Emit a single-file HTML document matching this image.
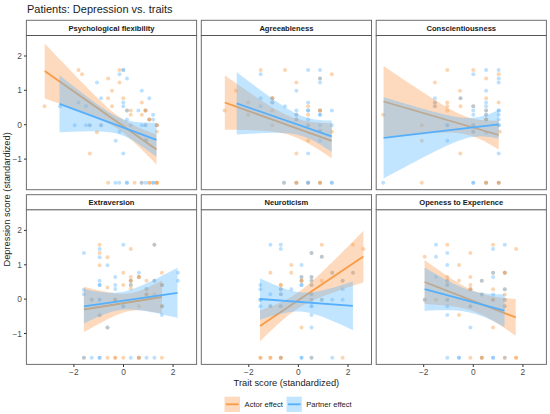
<!DOCTYPE html><html><head><meta charset="utf-8"><style>html,body{margin:0;padding:0;background:#fff;width:550px;height:414px;overflow:hidden}svg{display:block;font-family:"Liberation Sans",sans-serif}</style></head><body>
<svg width="550" height="414" viewBox="0 0 550 414">
<rect width="550" height="414" fill="#fff"/>
<text x="27" y="13.2" font-size="11" fill="#1a1a1a">Patients: Depression vs. traits</text>
<clipPath id="c00"><rect x="26.4" y="35.5" width="170.2" height="154.2"/></clipPath>
<g clip-path="url(#c00)">
<circle cx="78.5" cy="70.1" r="2.0" fill="rgb(247,150,60)" fill-opacity="0.4"/>
<circle cx="82.0" cy="74.2" r="2.0" fill="rgb(247,150,60)" fill-opacity="0.4"/>
<circle cx="108.1" cy="78.4" r="2.0" fill="rgb(247,150,60)" fill-opacity="0.4"/>
<circle cx="97.0" cy="82.5" r="2.0" fill="rgb(90,178,252)" fill-opacity="0.4"/>
<circle cx="112.0" cy="90.7" r="2.0" fill="rgb(247,150,60)" fill-opacity="0.4"/>
<circle cx="101.1" cy="98.2" r="2.0" fill="rgb(90,178,252)" fill-opacity="0.4"/>
<circle cx="108.1" cy="98.2" r="2.0" fill="rgb(247,150,60)" fill-opacity="0.4"/>
<circle cx="44.5" cy="106.3" r="2.0" fill="rgb(247,150,60)" fill-opacity="0.4"/>
<circle cx="78.5" cy="102.4" r="2.0" fill="rgb(90,178,252)" fill-opacity="0.4"/>
<circle cx="86.0" cy="106.3" r="2.0" fill="rgb(90,178,252)" fill-opacity="0.4"/>
<circle cx="60.0" cy="106.3" r="2.0" fill="rgb(90,178,252)" fill-opacity="0.4"/>
<circle cx="119.5" cy="70.1" r="2.0" fill="rgb(247,150,60)" fill-opacity="0.4"/>
<circle cx="123.3" cy="70.1" r="2.0" fill="rgb(90,178,252)" fill-opacity="0.4"/><circle cx="123.3" cy="70.1" r="2.0" fill="rgb(90,178,252)" fill-opacity="0.4"/>
<circle cx="119.5" cy="74.2" r="2.0" fill="rgb(90,178,252)" fill-opacity="0.4"/>
<circle cx="127.0" cy="78.4" r="2.0" fill="rgb(90,178,252)" fill-opacity="0.4"/>
<circle cx="119.5" cy="82.5" r="2.0" fill="rgb(247,150,60)" fill-opacity="0.4"/>
<circle cx="141.8" cy="90.7" r="2.0" fill="rgb(90,178,252)" fill-opacity="0.4"/>
<circle cx="123.3" cy="98.2" r="2.0" fill="rgb(247,150,60)" fill-opacity="0.4"/>
<circle cx="149.3" cy="98.2" r="2.0" fill="rgb(90,178,252)" fill-opacity="0.4"/>
<circle cx="123.3" cy="102.4" r="2.0" fill="rgb(90,178,252)" fill-opacity="0.4"/>
<circle cx="141.8" cy="102.4" r="2.0" fill="rgb(247,150,60)" fill-opacity="0.4"/>
<circle cx="123.3" cy="106.3" r="2.0" fill="rgb(90,178,252)" fill-opacity="0.4"/>
<circle cx="112.0" cy="106.3" r="2.0" fill="rgb(247,150,60)" fill-opacity="0.4"/>
<circle cx="127.0" cy="110.5" r="2.0" fill="rgb(247,150,60)" fill-opacity="0.4"/><circle cx="127.0" cy="110.5" r="2.0" fill="rgb(90,178,252)" fill-opacity="0.4"/>
<circle cx="130.8" cy="110.5" r="2.0" fill="rgb(247,150,60)" fill-opacity="0.4"/>
<circle cx="138.4" cy="110.5" r="2.0" fill="rgb(90,178,252)" fill-opacity="0.4"/>
<circle cx="145.5" cy="110.5" r="2.0" fill="rgb(90,178,252)" fill-opacity="0.4"/><circle cx="145.5" cy="110.5" r="2.0" fill="rgb(247,150,60)" fill-opacity="0.4"/><circle cx="145.5" cy="110.5" r="2.0" fill="rgb(247,150,60)" fill-opacity="0.4"/>
<circle cx="130.8" cy="114.8" r="2.0" fill="rgb(247,150,60)" fill-opacity="0.4"/>
<circle cx="141.8" cy="114.8" r="2.0" fill="rgb(247,150,60)" fill-opacity="0.4"/>
<circle cx="153.1" cy="114.8" r="2.0" fill="rgb(90,178,252)" fill-opacity="0.4"/>
<circle cx="149.3" cy="119.5" r="2.0" fill="rgb(90,178,252)" fill-opacity="0.4"/><circle cx="149.3" cy="119.5" r="2.0" fill="rgb(247,150,60)" fill-opacity="0.4"/><circle cx="149.3" cy="119.5" r="2.0" fill="rgb(247,150,60)" fill-opacity="0.4"/>
<circle cx="153.1" cy="119.5" r="2.0" fill="rgb(90,178,252)" fill-opacity="0.4"/>
<circle cx="141.8" cy="125.2" r="2.0" fill="rgb(90,178,252)" fill-opacity="0.4"/>
<circle cx="145.5" cy="125.2" r="2.0" fill="rgb(247,150,60)" fill-opacity="0.4"/><circle cx="145.5" cy="125.2" r="2.0" fill="rgb(90,178,252)" fill-opacity="0.4"/>
<circle cx="156.8" cy="125.2" r="2.0" fill="rgb(90,178,252)" fill-opacity="0.4"/><circle cx="156.8" cy="125.2" r="2.0" fill="rgb(247,150,60)" fill-opacity="0.4"/><circle cx="156.8" cy="125.2" r="2.0" fill="rgb(247,150,60)" fill-opacity="0.4"/>
<circle cx="156.8" cy="131.8" r="2.0" fill="rgb(247,150,60)" fill-opacity="0.4"/>
<circle cx="115.7" cy="140.7" r="2.0" fill="rgb(90,178,252)" fill-opacity="0.4"/>
<circle cx="123.3" cy="153.5" r="2.0" fill="rgb(90,178,252)" fill-opacity="0.4"/>
<circle cx="74.7" cy="125.2" r="2.0" fill="rgb(90,178,252)" fill-opacity="0.4"/>
<circle cx="86.0" cy="125.2" r="2.0" fill="rgb(90,178,252)" fill-opacity="0.4"/>
<circle cx="89.8" cy="125.2" r="2.0" fill="rgb(247,150,60)" fill-opacity="0.4"/><circle cx="89.8" cy="125.2" r="2.0" fill="rgb(90,178,252)" fill-opacity="0.4"/>
<circle cx="101.1" cy="125.2" r="2.0" fill="rgb(247,150,60)" fill-opacity="0.4"/><circle cx="101.1" cy="125.2" r="2.0" fill="rgb(90,178,252)" fill-opacity="0.4"/>
<circle cx="96.9" cy="132.2" r="2.0" fill="rgb(247,150,60)" fill-opacity="0.4"/>
<circle cx="89.8" cy="153.5" r="2.0" fill="rgb(247,150,60)" fill-opacity="0.4"/>
<circle cx="130.8" cy="125.2" r="2.0" fill="rgb(90,178,252)" fill-opacity="0.4"/>
<circle cx="119.5" cy="131.8" r="2.0" fill="rgb(90,178,252)" fill-opacity="0.4"/>
<circle cx="127.0" cy="119.5" r="2.0" fill="rgb(90,178,252)" fill-opacity="0.4"/>
<circle cx="145.9" cy="140.3" r="2.0" fill="rgb(247,150,60)" fill-opacity="0.4"/><circle cx="145.9" cy="140.3" r="2.0" fill="rgb(90,178,252)" fill-opacity="0.4"/>
<circle cx="108.1" cy="182.8" r="2.0" fill="rgb(247,150,60)" fill-opacity="0.4"/>
<circle cx="115.5" cy="182.8" r="2.0" fill="rgb(90,178,252)" fill-opacity="0.4"/>
<circle cx="119.3" cy="182.8" r="2.0" fill="rgb(90,178,252)" fill-opacity="0.4"/>
<circle cx="126.9" cy="182.8" r="2.0" fill="rgb(90,178,252)" fill-opacity="0.4"/><circle cx="126.9" cy="182.8" r="2.0" fill="rgb(90,178,252)" fill-opacity="0.4"/>
<circle cx="134.5" cy="182.8" r="2.0" fill="rgb(247,150,60)" fill-opacity="0.4"/>
<circle cx="141.6" cy="182.8" r="2.0" fill="rgb(247,150,60)" fill-opacity="0.4"/><circle cx="141.6" cy="182.8" r="2.0" fill="rgb(90,178,252)" fill-opacity="0.4"/>
<circle cx="145.6" cy="182.8" r="2.0" fill="rgb(90,178,252)" fill-opacity="0.4"/>
<circle cx="149.3" cy="182.8" r="2.0" fill="rgb(247,150,60)" fill-opacity="0.4"/><circle cx="149.3" cy="182.8" r="2.0" fill="rgb(247,150,60)" fill-opacity="0.4"/>
<circle cx="153.1" cy="182.8" r="2.0" fill="rgb(90,178,252)" fill-opacity="0.4"/><circle cx="153.1" cy="182.8" r="2.0" fill="rgb(90,178,252)" fill-opacity="0.4"/>
<circle cx="156.8" cy="182.8" r="2.0" fill="rgb(247,150,60)" fill-opacity="0.4"/><circle cx="156.8" cy="182.8" r="2.0" fill="rgb(247,150,60)" fill-opacity="0.4"/><circle cx="156.8" cy="182.8" r="2.0" fill="rgb(247,150,60)" fill-opacity="0.4"/>
<path d="M44.70,43.60 L47.57,46.61 L50.43,49.62 L53.30,52.63 L56.17,55.63 L59.03,58.63 L61.90,61.62 L64.77,64.61 L67.63,67.60 L70.50,70.57 L73.37,73.54 L76.23,76.51 L79.10,79.46 L81.97,82.40 L84.83,85.33 L87.70,88.24 L90.57,91.13 L93.43,93.99 L96.30,96.82 L99.17,99.61 L102.03,102.35 L104.90,105.03 L107.77,107.63 L110.63,110.13 L113.50,112.50 L116.37,114.74 L119.23,116.82 L122.10,118.74 L124.97,120.51 L127.83,122.15 L130.70,123.66 L133.57,125.08 L136.43,126.43 L139.30,127.71 L142.17,128.94 L145.03,130.13 L147.90,131.30 L150.77,132.43 L153.63,133.55 L156.50,134.65 L156.50,164.55 L153.63,161.62 L150.77,158.70 L147.90,155.81 L145.03,152.94 L142.17,150.11 L139.30,147.31 L136.43,144.56 L133.57,141.87 L130.70,139.26 L127.83,136.74 L124.97,134.35 L122.10,132.09 L119.23,129.98 L116.37,128.03 L113.50,126.24 L110.63,124.58 L107.77,123.05 L104.90,121.61 L102.03,120.26 L99.17,118.97 L96.30,117.73 L93.43,116.53 L90.57,115.37 L87.70,114.22 L84.83,113.10 L81.97,112.00 L79.10,110.91 L76.23,109.83 L73.37,108.76 L70.50,107.70 L67.63,106.65 L64.77,105.60 L61.90,104.56 L59.03,103.53 L56.17,102.49 L53.30,101.47 L50.43,100.44 L47.57,99.42 L44.70,98.40Z" fill="rgb(250,160,90)" fill-opacity="0.4"/>
<line x1="44.7" y1="71" x2="156.5" y2="149.6" stroke="rgb(248,155,70)" stroke-width="1.8"/>
<path d="M59.50,75.35 L61.99,77.30 L64.47,79.26 L66.96,81.21 L69.45,83.15 L71.94,85.09 L74.42,87.03 L76.91,88.95 L79.40,90.87 L81.88,92.78 L84.37,94.68 L86.86,96.56 L89.35,98.43 L91.83,100.28 L94.32,102.11 L96.81,103.91 L99.29,105.69 L101.78,107.42 L104.27,109.11 L106.76,110.74 L109.24,112.31 L111.73,113.79 L114.22,115.18 L116.71,116.46 L119.19,117.61 L121.68,118.62 L124.17,119.49 L126.65,120.22 L129.14,120.82 L131.63,121.30 L134.12,121.69 L136.60,121.99 L139.09,122.21 L141.58,122.38 L144.06,122.51 L146.55,122.59 L149.04,122.64 L151.53,122.66 L154.01,122.66 L156.50,122.64 L156.50,156.96 L154.01,155.09 L151.53,153.25 L149.04,151.42 L146.55,149.63 L144.06,147.86 L141.58,146.14 L139.09,144.46 L136.60,142.85 L134.12,141.30 L131.63,139.84 L129.14,138.47 L126.65,137.23 L124.17,136.11 L121.68,135.14 L119.19,134.30 L116.71,133.60 L114.22,133.03 L111.73,132.58 L109.24,132.21 L106.76,131.93 L104.27,131.72 L101.78,131.56 L99.29,131.45 L96.81,131.38 L94.32,131.34 L91.83,131.32 L89.35,131.32 L86.86,131.35 L84.37,131.38 L81.88,131.44 L79.40,131.50 L76.91,131.57 L74.42,131.65 L71.94,131.74 L69.45,131.83 L66.96,131.93 L64.47,132.03 L61.99,132.14 L59.50,132.25Z" fill="rgb(100,188,254)" fill-opacity="0.4"/>
<line x1="59.5" y1="103.8" x2="156.5" y2="139.8" stroke="rgb(85,175,250)" stroke-width="1.8"/>
</g>
<rect x="26.4" y="35.5" width="170.2" height="154.2" fill="none" stroke="#6e6e6e" stroke-width="1"/>
<rect x="26.4" y="20.3" width="170.2" height="15.2" fill="#fff" stroke="#6e6e6e" stroke-width="1"/>
<line x1="26.4" y1="35.5" x2="196.6" y2="35.5" stroke="#555" stroke-width="1"/>
<text x="111.5" y="30.7" font-size="7.6" font-weight="bold" text-anchor="middle" fill="#1a1a1a">Psychological flexibility</text>
<clipPath id="c01"><rect x="201.3" y="35.5" width="170.2" height="154.2"/></clipPath>
<g clip-path="url(#c01)">
<circle cx="260.6" cy="70.1" r="2.0" fill="rgb(247,150,60)" fill-opacity="0.4"/>
<circle cx="285.0" cy="70.1" r="2.0" fill="rgb(247,150,60)" fill-opacity="0.4"/>
<circle cx="260.6" cy="74.2" r="2.0" fill="rgb(90,178,252)" fill-opacity="0.4"/>
<circle cx="235.9" cy="90.7" r="2.0" fill="rgb(247,150,60)" fill-opacity="0.4"/>
<circle cx="272.3" cy="98.2" r="2.0" fill="rgb(90,178,252)" fill-opacity="0.4"/><circle cx="272.3" cy="98.2" r="2.0" fill="rgb(247,150,60)" fill-opacity="0.4"/><circle cx="272.3" cy="98.2" r="2.0" fill="rgb(247,150,60)" fill-opacity="0.4"/>
<circle cx="260.6" cy="98.2" r="2.0" fill="rgb(90,178,252)" fill-opacity="0.4"/>
<circle cx="272.3" cy="102.4" r="2.0" fill="rgb(247,150,60)" fill-opacity="0.4"/><circle cx="272.3" cy="102.4" r="2.0" fill="rgb(90,178,252)" fill-opacity="0.4"/>
<circle cx="260.6" cy="106.3" r="2.0" fill="rgb(90,178,252)" fill-opacity="0.4"/>
<circle cx="248.2" cy="102.4" r="2.0" fill="rgb(247,150,60)" fill-opacity="0.4"/>
<circle cx="285.0" cy="106.3" r="2.0" fill="rgb(90,178,252)" fill-opacity="0.4"/>
<circle cx="224.6" cy="110.5" r="2.0" fill="rgb(247,150,60)" fill-opacity="0.4"/>
<circle cx="272.3" cy="110.5" r="2.0" fill="rgb(247,150,60)" fill-opacity="0.4"/>
<circle cx="308.1" cy="70.1" r="2.0" fill="rgb(90,178,252)" fill-opacity="0.4"/>
<circle cx="320.0" cy="70.1" r="2.0" fill="rgb(90,178,252)" fill-opacity="0.4"/>
<circle cx="331.8" cy="74.2" r="2.0" fill="rgb(247,150,60)" fill-opacity="0.4"/>
<circle cx="320.0" cy="78.4" r="2.0" fill="rgb(247,150,60)" fill-opacity="0.4"/><circle cx="320.0" cy="78.4" r="2.0" fill="rgb(90,178,252)" fill-opacity="0.4"/>
<circle cx="320.0" cy="82.5" r="2.0" fill="rgb(90,178,252)" fill-opacity="0.4"/>
<circle cx="296.4" cy="82.5" r="2.0" fill="rgb(247,150,60)" fill-opacity="0.4"/>
<circle cx="296.4" cy="90.7" r="2.0" fill="rgb(90,178,252)" fill-opacity="0.4"/>
<circle cx="308.1" cy="102.4" r="2.0" fill="rgb(90,178,252)" fill-opacity="0.4"/>
<circle cx="308.1" cy="106.3" r="2.0" fill="rgb(247,150,60)" fill-opacity="0.4"/>
<circle cx="296.4" cy="110.5" r="2.0" fill="rgb(90,178,252)" fill-opacity="0.4"/>
<circle cx="308.1" cy="110.5" r="2.0" fill="rgb(90,178,252)" fill-opacity="0.4"/><circle cx="308.1" cy="110.5" r="2.0" fill="rgb(90,178,252)" fill-opacity="0.4"/>
<circle cx="320.0" cy="110.5" r="2.0" fill="rgb(90,178,252)" fill-opacity="0.4"/><circle cx="320.0" cy="110.5" r="2.0" fill="rgb(247,150,60)" fill-opacity="0.4"/><circle cx="320.0" cy="110.5" r="2.0" fill="rgb(247,150,60)" fill-opacity="0.4"/>
<circle cx="331.8" cy="110.5" r="2.0" fill="rgb(90,178,252)" fill-opacity="0.4"/>
<circle cx="284.0" cy="182.8" r="2.0" fill="rgb(247,150,60)" fill-opacity="0.4"/><circle cx="284.0" cy="182.8" r="2.0" fill="rgb(90,178,252)" fill-opacity="0.4"/>
<circle cx="248.2" cy="114.8" r="2.0" fill="rgb(247,150,60)" fill-opacity="0.4"/>
<circle cx="272.3" cy="125.2" r="2.0" fill="rgb(247,150,60)" fill-opacity="0.4"/>
<circle cx="296.4" cy="114.8" r="2.0" fill="rgb(247,150,60)" fill-opacity="0.4"/><circle cx="296.4" cy="114.8" r="2.0" fill="rgb(90,178,252)" fill-opacity="0.4"/>
<circle cx="308.1" cy="114.8" r="2.0" fill="rgb(247,150,60)" fill-opacity="0.4"/>
<circle cx="320.0" cy="114.8" r="2.0" fill="rgb(90,178,252)" fill-opacity="0.4"/><circle cx="320.0" cy="114.8" r="2.0" fill="rgb(90,178,252)" fill-opacity="0.4"/>
<circle cx="296.4" cy="119.5" r="2.0" fill="rgb(247,150,60)" fill-opacity="0.4"/><circle cx="296.4" cy="119.5" r="2.0" fill="rgb(90,178,252)" fill-opacity="0.4"/>
<circle cx="308.1" cy="119.5" r="2.0" fill="rgb(90,178,252)" fill-opacity="0.4"/>
<circle cx="308.1" cy="125.2" r="2.0" fill="rgb(247,150,60)" fill-opacity="0.4"/><circle cx="308.1" cy="125.2" r="2.0" fill="rgb(90,178,252)" fill-opacity="0.4"/>
<circle cx="320.0" cy="125.2" r="2.0" fill="rgb(90,178,252)" fill-opacity="0.4"/>
<circle cx="331.8" cy="125.2" r="2.0" fill="rgb(90,178,252)" fill-opacity="0.4"/>
<circle cx="320.0" cy="130.9" r="2.0" fill="rgb(247,150,60)" fill-opacity="0.4"/><circle cx="320.0" cy="130.9" r="2.0" fill="rgb(90,178,252)" fill-opacity="0.4"/>
<circle cx="331.8" cy="131.8" r="2.0" fill="rgb(247,150,60)" fill-opacity="0.4"/>
<circle cx="308.1" cy="140.7" r="2.0" fill="rgb(247,150,60)" fill-opacity="0.4"/>
<circle cx="320.0" cy="140.7" r="2.0" fill="rgb(90,178,252)" fill-opacity="0.4"/>
<circle cx="296.4" cy="153.5" r="2.0" fill="rgb(247,150,60)" fill-opacity="0.4"/>
<circle cx="308.1" cy="153.5" r="2.0" fill="rgb(90,178,252)" fill-opacity="0.4"/>
<circle cx="296.4" cy="182.8" r="2.0" fill="rgb(90,178,252)" fill-opacity="0.4"/><circle cx="296.4" cy="182.8" r="2.0" fill="rgb(247,150,60)" fill-opacity="0.4"/><circle cx="296.4" cy="182.8" r="2.0" fill="rgb(247,150,60)" fill-opacity="0.4"/>
<circle cx="308.1" cy="182.8" r="2.0" fill="rgb(247,150,60)" fill-opacity="0.4"/><circle cx="308.1" cy="182.8" r="2.0" fill="rgb(90,178,252)" fill-opacity="0.4"/><circle cx="308.1" cy="182.8" r="2.0" fill="rgb(90,178,252)" fill-opacity="0.4"/>
<circle cx="320.0" cy="182.8" r="2.0" fill="rgb(90,178,252)" fill-opacity="0.4"/><circle cx="320.0" cy="182.8" r="2.0" fill="rgb(247,150,60)" fill-opacity="0.4"/><circle cx="320.0" cy="182.8" r="2.0" fill="rgb(247,150,60)" fill-opacity="0.4"/>
<circle cx="331.8" cy="182.8" r="2.0" fill="rgb(90,178,252)" fill-opacity="0.4"/><circle cx="331.8" cy="182.8" r="2.0" fill="rgb(90,178,252)" fill-opacity="0.4"/>
<path d="M224.80,75.24 L227.54,77.19 L230.28,79.14 L233.02,81.08 L235.76,83.01 L238.51,84.94 L241.25,86.86 L243.99,88.77 L246.73,90.67 L249.47,92.56 L252.21,94.43 L254.95,96.29 L257.69,98.13 L260.43,99.94 L263.17,101.73 L265.92,103.49 L268.66,105.21 L271.40,106.90 L274.14,108.53 L276.88,110.10 L279.62,111.60 L282.36,113.03 L285.10,114.36 L287.84,115.59 L290.58,116.72 L293.33,117.73 L296.07,118.62 L298.81,119.41 L301.55,120.09 L304.29,120.68 L307.03,121.18 L309.77,121.60 L312.51,121.96 L315.25,122.27 L317.99,122.53 L320.74,122.75 L323.48,122.94 L326.22,123.10 L328.96,123.24 L331.70,123.36 L331.70,158.24 L328.96,156.39 L326.22,154.57 L323.48,152.76 L320.74,150.99 L317.99,149.25 L315.25,147.54 L312.51,145.89 L309.77,144.29 L307.03,142.75 L304.29,141.28 L301.55,139.90 L298.81,138.62 L296.07,137.44 L293.33,136.38 L290.58,135.42 L287.84,134.58 L285.10,133.85 L282.36,133.22 L279.62,132.68 L276.88,132.22 L274.14,131.83 L271.40,131.49 L268.66,131.21 L265.92,130.97 L263.17,130.77 L260.43,130.59 L257.69,130.44 L254.95,130.32 L252.21,130.21 L249.47,130.12 L246.73,130.04 L243.99,129.98 L241.25,129.92 L238.51,129.88 L235.76,129.84 L233.02,129.81 L230.28,129.79 L227.54,129.77 L224.80,129.76Z" fill="rgb(250,160,90)" fill-opacity="0.4"/>
<line x1="224.8" y1="102.5" x2="331.7" y2="140.8" stroke="rgb(248,155,70)" stroke-width="1.8"/>
<path d="M236.70,72.22 L239.14,74.08 L241.57,75.93 L244.01,77.77 L246.44,79.61 L248.88,81.45 L251.32,83.28 L253.75,85.10 L256.19,86.91 L258.62,88.71 L261.06,90.51 L263.49,92.29 L265.93,94.06 L268.37,95.81 L270.80,97.55 L273.24,99.27 L275.67,100.96 L278.11,102.62 L280.55,104.25 L282.98,105.85 L285.42,107.39 L287.85,108.89 L290.29,110.32 L292.73,111.68 L295.16,112.96 L297.60,114.15 L300.03,115.23 L302.47,116.21 L304.91,117.07 L307.34,117.81 L309.78,118.45 L312.21,118.98 L314.65,119.42 L317.08,119.77 L319.52,120.05 L321.96,120.26 L324.39,120.41 L326.83,120.52 L329.26,120.59 L331.70,120.62 L331.70,151.98 L329.26,150.32 L326.83,148.71 L324.39,147.13 L321.96,145.59 L319.52,144.12 L317.08,142.71 L314.65,141.37 L312.21,140.12 L309.78,138.96 L307.34,137.91 L304.91,136.97 L302.47,136.15 L300.03,135.44 L297.60,134.83 L295.16,134.33 L292.73,133.92 L290.29,133.60 L287.85,133.34 L285.42,133.15 L282.98,133.01 L280.55,132.92 L278.11,132.86 L275.67,132.84 L273.24,132.84 L270.80,132.87 L268.37,132.92 L265.93,132.99 L263.49,133.07 L261.06,133.16 L258.62,133.27 L256.19,133.39 L253.75,133.51 L251.32,133.65 L248.88,133.79 L246.44,133.94 L244.01,134.09 L241.57,134.25 L239.14,134.41 L236.70,134.58Z" fill="rgb(100,188,254)" fill-opacity="0.4"/>
<line x1="236.7" y1="103.4" x2="331.7" y2="136.3" stroke="rgb(85,175,250)" stroke-width="1.8"/>
</g>
<rect x="201.3" y="35.5" width="170.2" height="154.2" fill="none" stroke="#6e6e6e" stroke-width="1"/>
<rect x="201.3" y="20.3" width="170.2" height="15.2" fill="#fff" stroke="#6e6e6e" stroke-width="1"/>
<line x1="201.3" y1="35.5" x2="371.5" y2="35.5" stroke="#555" stroke-width="1"/>
<text x="286.4" y="30.7" font-size="7.6" font-weight="bold" text-anchor="middle" fill="#1a1a1a">Agreeableness</text>
<clipPath id="c02"><rect x="376.2" y="35.5" width="170.2" height="154.2"/></clipPath>
<g clip-path="url(#c02)">
<circle cx="447.3" cy="70.1" r="2.0" fill="rgb(247,150,60)" fill-opacity="0.4"/>
<circle cx="434.9" cy="82.5" r="2.0" fill="rgb(247,150,60)" fill-opacity="0.4"/>
<circle cx="460.0" cy="90.7" r="2.0" fill="rgb(247,150,60)" fill-opacity="0.4"/>
<circle cx="434.9" cy="98.2" r="2.0" fill="rgb(90,178,252)" fill-opacity="0.4"/>
<circle cx="434.9" cy="102.4" r="2.0" fill="rgb(247,150,60)" fill-opacity="0.4"/><circle cx="434.9" cy="102.4" r="2.0" fill="rgb(90,178,252)" fill-opacity="0.4"/>
<circle cx="434.9" cy="106.3" r="2.0" fill="rgb(247,150,60)" fill-opacity="0.4"/><circle cx="434.9" cy="106.3" r="2.0" fill="rgb(90,178,252)" fill-opacity="0.4"/>
<circle cx="460.5" cy="98.2" r="2.0" fill="rgb(247,150,60)" fill-opacity="0.4"/><circle cx="460.5" cy="98.2" r="2.0" fill="rgb(90,178,252)" fill-opacity="0.4"/>
<circle cx="447.3" cy="102.4" r="2.0" fill="rgb(247,150,60)" fill-opacity="0.4"/>
<circle cx="460.5" cy="106.3" r="2.0" fill="rgb(247,150,60)" fill-opacity="0.4"/>
<circle cx="447.3" cy="106.3" r="2.0" fill="rgb(247,150,60)" fill-opacity="0.4"/>
<circle cx="447.3" cy="110.5" r="2.0" fill="rgb(247,150,60)" fill-opacity="0.4"/>
<circle cx="473.3" cy="70.1" r="2.0" fill="rgb(247,150,60)" fill-opacity="0.4"/>
<circle cx="486.1" cy="70.1" r="2.0" fill="rgb(90,178,252)" fill-opacity="0.4"/>
<circle cx="498.7" cy="70.1" r="2.0" fill="rgb(90,178,252)" fill-opacity="0.4"/>
<circle cx="473.3" cy="74.2" r="2.0" fill="rgb(90,178,252)" fill-opacity="0.4"/>
<circle cx="498.7" cy="74.2" r="2.0" fill="rgb(247,150,60)" fill-opacity="0.4"/>
<circle cx="486.1" cy="78.4" r="2.0" fill="rgb(247,150,60)" fill-opacity="0.4"/>
<circle cx="498.7" cy="78.4" r="2.0" fill="rgb(90,178,252)" fill-opacity="0.4"/>
<circle cx="498.7" cy="82.5" r="2.0" fill="rgb(90,178,252)" fill-opacity="0.4"/>
<circle cx="486.1" cy="90.7" r="2.0" fill="rgb(90,178,252)" fill-opacity="0.4"/>
<circle cx="486.1" cy="98.2" r="2.0" fill="rgb(247,150,60)" fill-opacity="0.4"/>
<circle cx="486.1" cy="102.4" r="2.0" fill="rgb(90,178,252)" fill-opacity="0.4"/>
<circle cx="498.7" cy="102.4" r="2.0" fill="rgb(247,150,60)" fill-opacity="0.4"/>
<circle cx="486.1" cy="106.3" r="2.0" fill="rgb(90,178,252)" fill-opacity="0.4"/>
<circle cx="473.3" cy="106.3" r="2.0" fill="rgb(247,150,60)" fill-opacity="0.4"/><circle cx="473.3" cy="106.3" r="2.0" fill="rgb(90,178,252)" fill-opacity="0.4"/>
<circle cx="486.1" cy="110.5" r="2.0" fill="rgb(247,150,60)" fill-opacity="0.4"/><circle cx="486.1" cy="110.5" r="2.0" fill="rgb(90,178,252)" fill-opacity="0.4"/>
<circle cx="473.3" cy="110.5" r="2.0" fill="rgb(90,178,252)" fill-opacity="0.4"/>
<circle cx="498.7" cy="110.5" r="2.0" fill="rgb(90,178,252)" fill-opacity="0.4"/><circle cx="498.7" cy="110.5" r="2.0" fill="rgb(90,178,252)" fill-opacity="0.4"/>
<circle cx="383.2" cy="114.8" r="2.0" fill="rgb(247,150,60)" fill-opacity="0.4"/>
<circle cx="421.8" cy="125.2" r="2.0" fill="rgb(247,150,60)" fill-opacity="0.4"/>
<circle cx="447.3" cy="125.2" r="2.0" fill="rgb(90,178,252)" fill-opacity="0.4"/><circle cx="447.3" cy="125.2" r="2.0" fill="rgb(90,178,252)" fill-opacity="0.4"/>
<circle cx="421.8" cy="140.7" r="2.0" fill="rgb(247,150,60)" fill-opacity="0.4"/>
<circle cx="447.3" cy="140.7" r="2.0" fill="rgb(90,178,252)" fill-opacity="0.4"/>
<circle cx="460.3" cy="153.5" r="2.0" fill="rgb(247,150,60)" fill-opacity="0.4"/>
<circle cx="383.2" cy="182.8" r="2.0" fill="rgb(90,178,252)" fill-opacity="0.4"/>
<circle cx="421.8" cy="182.8" r="2.0" fill="rgb(247,150,60)" fill-opacity="0.4"/>
<circle cx="473.3" cy="114.8" r="2.0" fill="rgb(90,178,252)" fill-opacity="0.4"/>
<circle cx="486.1" cy="114.8" r="2.0" fill="rgb(247,150,60)" fill-opacity="0.4"/><circle cx="486.1" cy="114.8" r="2.0" fill="rgb(90,178,252)" fill-opacity="0.4"/>
<circle cx="498.7" cy="114.8" r="2.0" fill="rgb(90,178,252)" fill-opacity="0.4"/>
<circle cx="486.1" cy="119.5" r="2.0" fill="rgb(90,178,252)" fill-opacity="0.4"/><circle cx="486.1" cy="119.5" r="2.0" fill="rgb(247,150,60)" fill-opacity="0.4"/><circle cx="486.1" cy="119.5" r="2.0" fill="rgb(247,150,60)" fill-opacity="0.4"/>
<circle cx="498.7" cy="119.5" r="2.0" fill="rgb(90,178,252)" fill-opacity="0.4"/>
<circle cx="473.3" cy="125.2" r="2.0" fill="rgb(247,150,60)" fill-opacity="0.4"/><circle cx="473.3" cy="125.2" r="2.0" fill="rgb(90,178,252)" fill-opacity="0.4"/>
<circle cx="498.7" cy="125.2" r="2.0" fill="rgb(90,178,252)" fill-opacity="0.4"/><circle cx="498.7" cy="125.2" r="2.0" fill="rgb(90,178,252)" fill-opacity="0.4"/>
<circle cx="499.7" cy="131.8" r="2.0" fill="rgb(247,150,60)" fill-opacity="0.4"/>
<circle cx="473.3" cy="131.8" r="2.0" fill="rgb(247,150,60)" fill-opacity="0.4"/><circle cx="473.3" cy="131.8" r="2.0" fill="rgb(90,178,252)" fill-opacity="0.4"/>
<circle cx="486.1" cy="132.8" r="2.0" fill="rgb(90,178,252)" fill-opacity="0.4"/>
<circle cx="498.7" cy="153.5" r="2.0" fill="rgb(90,178,252)" fill-opacity="0.4"/>
<circle cx="473.3" cy="182.8" r="2.0" fill="rgb(90,178,252)" fill-opacity="0.4"/><circle cx="473.3" cy="182.8" r="2.0" fill="rgb(90,178,252)" fill-opacity="0.4"/>
<circle cx="486.1" cy="182.8" r="2.0" fill="rgb(90,178,252)" fill-opacity="0.4"/><circle cx="486.1" cy="182.8" r="2.0" fill="rgb(247,150,60)" fill-opacity="0.4"/><circle cx="486.1" cy="182.8" r="2.0" fill="rgb(247,150,60)" fill-opacity="0.4"/>
<circle cx="498.7" cy="182.8" r="2.0" fill="rgb(90,178,252)" fill-opacity="0.4"/><circle cx="498.7" cy="182.8" r="2.0" fill="rgb(247,150,60)" fill-opacity="0.4"/><circle cx="498.7" cy="182.8" r="2.0" fill="rgb(247,150,60)" fill-opacity="0.4"/>
<path d="M383.60,66.05 L386.55,68.05 L389.50,70.04 L392.45,72.03 L395.41,74.02 L398.36,76.00 L401.31,77.98 L404.26,79.96 L407.21,81.93 L410.16,83.89 L413.11,85.85 L416.06,87.80 L419.02,89.74 L421.97,91.67 L424.92,93.59 L427.87,95.50 L430.82,97.39 L433.77,99.26 L436.72,101.11 L439.67,102.93 L442.63,104.73 L445.58,106.48 L448.53,108.18 L451.48,109.83 L454.43,111.40 L457.38,112.89 L460.33,114.27 L463.28,115.53 L466.24,116.66 L469.19,117.63 L472.14,118.45 L475.09,119.11 L478.04,119.63 L480.99,120.02 L483.94,120.30 L486.89,120.48 L489.85,120.59 L492.80,120.63 L495.75,120.62 L498.70,120.56 L498.70,149.44 L495.75,147.67 L492.80,145.94 L489.85,144.26 L486.89,142.65 L483.94,141.11 L480.99,139.67 L478.04,138.34 L475.09,137.14 L472.14,136.09 L469.19,135.19 L466.24,134.44 L463.28,133.85 L460.33,133.40 L457.38,133.06 L454.43,132.83 L451.48,132.69 L448.53,132.61 L445.58,132.60 L442.63,132.63 L439.67,132.71 L436.72,132.81 L433.77,132.94 L430.82,133.10 L427.87,133.27 L424.92,133.46 L421.97,133.66 L419.02,133.88 L416.06,134.10 L413.11,134.33 L410.16,134.57 L407.21,134.82 L404.26,135.07 L401.31,135.33 L398.36,135.59 L395.41,135.85 L392.45,136.12 L389.50,136.39 L386.55,136.67 L383.60,136.95Z" fill="rgb(250,160,90)" fill-opacity="0.4"/>
<line x1="383.6" y1="101.5" x2="498.7" y2="135" stroke="rgb(248,155,70)" stroke-width="1.8"/>
<path d="M383.60,97.14 L386.55,98.04 L389.50,98.94 L392.45,99.83 L395.41,100.72 L398.36,101.61 L401.31,102.49 L404.26,103.37 L407.21,104.25 L410.16,105.12 L413.11,105.98 L416.06,106.84 L419.02,107.69 L421.97,108.53 L424.92,109.36 L427.87,110.18 L430.82,110.99 L433.77,111.78 L436.72,112.55 L439.67,113.30 L442.63,114.03 L445.58,114.72 L448.53,115.37 L451.48,115.98 L454.43,116.53 L457.38,117.01 L460.33,117.40 L463.28,117.70 L466.24,117.87 L469.19,117.90 L472.14,117.77 L475.09,117.48 L478.04,117.01 L480.99,116.38 L483.94,115.60 L486.89,114.69 L489.85,113.66 L492.80,112.53 L495.75,111.33 L498.70,110.07 L498.70,138.53 L495.75,137.96 L492.80,137.45 L489.85,137.02 L486.89,136.68 L483.94,136.46 L480.99,136.37 L478.04,136.43 L475.09,136.66 L472.14,137.06 L469.19,137.62 L466.24,138.35 L463.28,139.21 L460.33,140.20 L457.38,141.28 L454.43,142.46 L451.48,143.70 L448.53,145.00 L445.58,146.34 L442.63,147.73 L439.67,149.14 L436.72,150.58 L433.77,152.05 L430.82,153.53 L427.87,155.03 L424.92,156.54 L421.97,158.07 L419.02,159.60 L416.06,161.14 L413.11,162.69 L410.16,164.25 L407.21,165.81 L404.26,167.38 L401.31,168.95 L398.36,170.53 L395.41,172.11 L392.45,173.69 L389.50,175.28 L386.55,176.87 L383.60,178.46Z" fill="rgb(100,188,254)" fill-opacity="0.4"/>
<line x1="383.6" y1="137.8" x2="498.7" y2="124.3" stroke="rgb(85,175,250)" stroke-width="1.8"/>
</g>
<rect x="376.2" y="35.5" width="170.2" height="154.2" fill="none" stroke="#6e6e6e" stroke-width="1"/>
<rect x="376.2" y="20.3" width="170.2" height="15.2" fill="#fff" stroke="#6e6e6e" stroke-width="1"/>
<line x1="376.2" y1="35.5" x2="546.4" y2="35.5" stroke="#555" stroke-width="1"/>
<text x="461.3" y="30.7" font-size="7.6" font-weight="bold" text-anchor="middle" fill="#1a1a1a">Conscientiousness</text>
<line x1="24" y1="56.0" x2="26.4" y2="56.0" stroke="#333" stroke-width="1"/>
<text x="22.0" y="59.0" font-size="8.4" text-anchor="end" fill="#4d4d4d">2</text>
<line x1="24" y1="90.3" x2="26.4" y2="90.3" stroke="#333" stroke-width="1"/>
<text x="22.0" y="93.3" font-size="8.4" text-anchor="end" fill="#4d4d4d">1</text>
<line x1="24" y1="124.7" x2="26.4" y2="124.7" stroke="#333" stroke-width="1"/>
<text x="22.0" y="127.7" font-size="8.4" text-anchor="end" fill="#4d4d4d">0</text>
<line x1="24" y1="159.1" x2="26.4" y2="159.1" stroke="#333" stroke-width="1"/>
<text x="22.0" y="162.1" font-size="8.4" text-anchor="end" fill="#4d4d4d">−1</text>
<clipPath id="c10"><rect x="26.4" y="209.7" width="170.2" height="154.7"/></clipPath>
<g clip-path="url(#c10)">
<circle cx="99.6" cy="244.7" r="2.0" fill="rgb(247,150,60)" fill-opacity="0.4"/>
<circle cx="99.6" cy="248.9" r="2.0" fill="rgb(90,178,252)" fill-opacity="0.4"/>
<circle cx="99.6" cy="253.0" r="2.0" fill="rgb(247,150,60)" fill-opacity="0.4"/>
<circle cx="83.9" cy="253.0" r="2.0" fill="rgb(90,178,252)" fill-opacity="0.4"/>
<circle cx="99.6" cy="257.2" r="2.0" fill="rgb(90,178,252)" fill-opacity="0.4"/>
<circle cx="107.5" cy="257.2" r="2.0" fill="rgb(247,150,60)" fill-opacity="0.4"/>
<circle cx="99.6" cy="265.3" r="2.0" fill="rgb(247,150,60)" fill-opacity="0.4"/>
<circle cx="107.5" cy="265.3" r="2.0" fill="rgb(90,178,252)" fill-opacity="0.4"/>
<circle cx="99.6" cy="280.8" r="2.0" fill="rgb(90,178,252)" fill-opacity="0.4"/>
<circle cx="99.6" cy="285.1" r="2.0" fill="rgb(90,178,252)" fill-opacity="0.4"/><circle cx="99.6" cy="285.1" r="2.0" fill="rgb(90,178,252)" fill-opacity="0.4"/>
<circle cx="107.5" cy="287.4" r="2.0" fill="rgb(247,150,60)" fill-opacity="0.4"/>
<circle cx="123.3" cy="244.7" r="2.0" fill="rgb(90,178,252)" fill-opacity="0.4"/>
<circle cx="154.4" cy="244.7" r="2.0" fill="rgb(247,150,60)" fill-opacity="0.4"/><circle cx="154.4" cy="244.7" r="2.0" fill="rgb(90,178,252)" fill-opacity="0.4"/>
<circle cx="130.8" cy="248.9" r="2.0" fill="rgb(247,150,60)" fill-opacity="0.4"/>
<circle cx="123.3" cy="272.8" r="2.0" fill="rgb(247,150,60)" fill-opacity="0.4"/>
<circle cx="138.9" cy="272.8" r="2.0" fill="rgb(90,178,252)" fill-opacity="0.4"/>
<circle cx="161.9" cy="272.8" r="2.0" fill="rgb(247,150,60)" fill-opacity="0.4"/>
<circle cx="178.0" cy="272.8" r="2.0" fill="rgb(90,178,252)" fill-opacity="0.4"/>
<circle cx="115.2" cy="277.0" r="2.0" fill="rgb(90,178,252)" fill-opacity="0.4"/>
<circle cx="130.8" cy="277.0" r="2.0" fill="rgb(247,150,60)" fill-opacity="0.4"/>
<circle cx="138.9" cy="277.0" r="2.0" fill="rgb(90,178,252)" fill-opacity="0.4"/><circle cx="138.9" cy="277.0" r="2.0" fill="rgb(247,150,60)" fill-opacity="0.4"/><circle cx="138.9" cy="277.0" r="2.0" fill="rgb(247,150,60)" fill-opacity="0.4"/>
<circle cx="130.8" cy="280.8" r="2.0" fill="rgb(90,178,252)" fill-opacity="0.4"/><circle cx="130.8" cy="280.8" r="2.0" fill="rgb(247,150,60)" fill-opacity="0.4"/><circle cx="130.8" cy="280.8" r="2.0" fill="rgb(247,150,60)" fill-opacity="0.4"/>
<circle cx="146.5" cy="280.8" r="2.0" fill="rgb(247,150,60)" fill-opacity="0.4"/>
<circle cx="178.0" cy="280.8" r="2.0" fill="rgb(90,178,252)" fill-opacity="0.4"/>
<circle cx="115.2" cy="285.1" r="2.0" fill="rgb(90,178,252)" fill-opacity="0.4"/>
<circle cx="123.3" cy="285.1" r="2.0" fill="rgb(247,150,60)" fill-opacity="0.4"/>
<circle cx="130.8" cy="285.1" r="2.0" fill="rgb(247,150,60)" fill-opacity="0.4"/><circle cx="130.8" cy="285.1" r="2.0" fill="rgb(90,178,252)" fill-opacity="0.4"/>
<circle cx="161.9" cy="285.1" r="2.0" fill="rgb(90,178,252)" fill-opacity="0.4"/><circle cx="161.9" cy="285.1" r="2.0" fill="rgb(247,150,60)" fill-opacity="0.4"/><circle cx="161.9" cy="285.1" r="2.0" fill="rgb(247,150,60)" fill-opacity="0.4"/>
<circle cx="154.4" cy="280.8" r="2.0" fill="rgb(247,150,60)" fill-opacity="0.4"/><circle cx="154.4" cy="280.8" r="2.0" fill="rgb(90,178,252)" fill-opacity="0.4"/>
<circle cx="83.9" cy="289.8" r="2.0" fill="rgb(90,178,252)" fill-opacity="0.4"/>
<circle cx="83.9" cy="294.2" r="2.0" fill="rgb(90,178,252)" fill-opacity="0.4"/>
<circle cx="91.7" cy="299.8" r="2.0" fill="rgb(247,150,60)" fill-opacity="0.4"/><circle cx="91.7" cy="299.8" r="2.0" fill="rgb(90,178,252)" fill-opacity="0.4"/>
<circle cx="99.6" cy="299.8" r="2.0" fill="rgb(90,178,252)" fill-opacity="0.4"/><circle cx="99.6" cy="299.8" r="2.0" fill="rgb(90,178,252)" fill-opacity="0.4"/>
<circle cx="99.6" cy="315.3" r="2.0" fill="rgb(247,150,60)" fill-opacity="0.4"/><circle cx="99.6" cy="315.3" r="2.0" fill="rgb(90,178,252)" fill-opacity="0.4"/>
<circle cx="107.5" cy="327.6" r="2.0" fill="rgb(247,150,60)" fill-opacity="0.4"/><circle cx="107.5" cy="327.6" r="2.0" fill="rgb(90,178,252)" fill-opacity="0.4"/>
<circle cx="83.9" cy="357.7" r="2.0" fill="rgb(247,150,60)" fill-opacity="0.4"/><circle cx="83.9" cy="357.7" r="2.0" fill="rgb(90,178,252)" fill-opacity="0.4"/>
<circle cx="91.7" cy="357.7" r="2.0" fill="rgb(90,178,252)" fill-opacity="0.4"/>
<circle cx="99.6" cy="357.7" r="2.0" fill="rgb(90,178,252)" fill-opacity="0.4"/><circle cx="99.6" cy="357.7" r="2.0" fill="rgb(90,178,252)" fill-opacity="0.4"/>
<circle cx="107.5" cy="357.7" r="2.0" fill="rgb(247,150,60)" fill-opacity="0.4"/>
<circle cx="115.2" cy="288.9" r="2.0" fill="rgb(90,178,252)" fill-opacity="0.4"/>
<circle cx="130.8" cy="288.5" r="2.0" fill="rgb(247,150,60)" fill-opacity="0.4"/>
<circle cx="146.5" cy="288.9" r="2.0" fill="rgb(247,150,60)" fill-opacity="0.4"/><circle cx="146.5" cy="288.9" r="2.0" fill="rgb(90,178,252)" fill-opacity="0.4"/>
<circle cx="146.5" cy="294.5" r="2.0" fill="rgb(90,178,252)" fill-opacity="0.4"/><circle cx="146.5" cy="294.5" r="2.0" fill="rgb(247,150,60)" fill-opacity="0.4"/><circle cx="146.5" cy="294.5" r="2.0" fill="rgb(247,150,60)" fill-opacity="0.4"/>
<circle cx="154.4" cy="294.5" r="2.0" fill="rgb(247,150,60)" fill-opacity="0.4"/>
<circle cx="115.2" cy="299.8" r="2.0" fill="rgb(90,178,252)" fill-opacity="0.4"/><circle cx="115.2" cy="299.8" r="2.0" fill="rgb(247,150,60)" fill-opacity="0.4"/><circle cx="115.2" cy="299.8" r="2.0" fill="rgb(247,150,60)" fill-opacity="0.4"/>
<circle cx="123.3" cy="306.2" r="2.0" fill="rgb(90,178,252)" fill-opacity="0.4"/><circle cx="123.3" cy="306.2" r="2.0" fill="rgb(90,178,252)" fill-opacity="0.4"/>
<circle cx="138.9" cy="306.2" r="2.0" fill="rgb(247,150,60)" fill-opacity="0.4"/>
<circle cx="161.9" cy="306.2" r="2.0" fill="rgb(90,178,252)" fill-opacity="0.4"/><circle cx="161.9" cy="306.2" r="2.0" fill="rgb(247,150,60)" fill-opacity="0.4"/><circle cx="161.9" cy="306.2" r="2.0" fill="rgb(247,150,60)" fill-opacity="0.4"/>
<circle cx="161.9" cy="314.9" r="2.0" fill="rgb(90,178,252)" fill-opacity="0.4"/>
<circle cx="115.2" cy="357.7" r="2.0" fill="rgb(247,150,60)" fill-opacity="0.4"/><circle cx="115.2" cy="357.7" r="2.0" fill="rgb(247,150,60)" fill-opacity="0.4"/>
<circle cx="123.3" cy="357.7" r="2.0" fill="rgb(247,150,60)" fill-opacity="0.4"/>
<circle cx="130.8" cy="357.7" r="2.0" fill="rgb(90,178,252)" fill-opacity="0.4"/>
<circle cx="138.9" cy="357.7" r="2.0" fill="rgb(90,178,252)" fill-opacity="0.4"/><circle cx="138.9" cy="357.7" r="2.0" fill="rgb(247,150,60)" fill-opacity="0.4"/><circle cx="138.9" cy="357.7" r="2.0" fill="rgb(247,150,60)" fill-opacity="0.4"/>
<circle cx="146.5" cy="357.7" r="2.0" fill="rgb(90,178,252)" fill-opacity="0.4"/>
<circle cx="154.4" cy="357.7" r="2.0" fill="rgb(90,178,252)" fill-opacity="0.4"/>
<circle cx="161.9" cy="357.7" r="2.0" fill="rgb(247,150,60)" fill-opacity="0.4"/>
<path d="M83.90,286.80 L85.90,287.30 L87.91,287.80 L89.91,288.29 L91.91,288.78 L93.91,289.25 L95.92,289.72 L97.92,290.17 L99.92,290.62 L101.92,291.05 L103.93,291.46 L105.93,291.85 L107.93,292.22 L109.93,292.56 L111.94,292.87 L113.94,293.15 L115.94,293.39 L117.94,293.58 L119.95,293.71 L121.95,293.79 L123.95,293.79 L125.95,293.71 L127.96,293.55 L129.96,293.30 L131.96,292.96 L133.96,292.53 L135.97,292.01 L137.97,291.41 L139.97,290.73 L141.97,289.99 L143.98,289.19 L145.98,288.34 L147.98,287.44 L149.98,286.51 L151.99,285.54 L153.99,284.54 L155.99,283.52 L157.99,282.48 L160.00,281.42 L162.00,280.34 L162.00,313.66 L160.00,313.22 L157.99,312.80 L155.99,312.40 L153.99,312.02 L151.99,311.67 L149.98,311.34 L147.98,311.05 L145.98,310.79 L143.98,310.58 L141.97,310.42 L139.97,310.32 L137.97,310.28 L135.97,310.32 L133.96,310.45 L131.96,310.66 L129.96,310.96 L127.96,311.35 L125.95,311.83 L123.95,312.39 L121.95,313.03 L119.95,313.75 L117.94,314.52 L115.94,315.35 L113.94,316.23 L111.94,317.15 L109.93,318.11 L107.93,319.09 L105.93,320.10 L103.93,321.13 L101.92,322.19 L99.92,323.25 L97.92,324.34 L95.92,325.43 L93.91,326.54 L91.91,327.66 L89.91,328.78 L87.91,329.92 L85.90,331.06 L83.90,332.20Z" fill="rgb(250,160,90)" fill-opacity="0.4"/>
<line x1="83.9" y1="309.5" x2="162" y2="297.0" stroke="rgb(248,155,70)" stroke-width="1.8"/>
<path d="M83.90,289.11 L86.30,289.60 L88.70,290.07 L91.10,290.52 L93.50,290.95 L95.90,291.35 L98.30,291.71 L100.70,292.04 L103.10,292.32 L105.50,292.55 L107.90,292.72 L110.30,292.82 L112.70,292.83 L115.10,292.75 L117.50,292.57 L119.90,292.29 L122.30,291.90 L124.70,291.40 L127.10,290.80 L129.50,290.11 L131.90,289.34 L134.30,288.49 L136.70,287.58 L139.10,286.62 L141.50,285.61 L143.90,284.56 L146.30,283.47 L148.70,282.36 L151.10,281.23 L153.50,280.07 L155.90,278.90 L158.30,277.71 L160.70,276.51 L163.10,275.30 L165.50,274.08 L167.90,272.85 L170.30,271.61 L172.70,270.37 L175.10,269.11 L177.50,267.86 L177.50,317.94 L175.10,317.37 L172.70,316.81 L170.30,316.25 L167.90,315.70 L165.50,315.16 L163.10,314.62 L160.70,314.10 L158.30,313.58 L155.90,313.08 L153.50,312.60 L151.10,312.13 L148.70,311.68 L146.30,311.26 L143.90,310.87 L141.50,310.50 L139.10,310.18 L136.70,309.90 L134.30,309.68 L131.90,309.52 L129.50,309.43 L127.10,309.43 L124.70,309.52 L122.30,309.71 L119.90,310.00 L117.50,310.41 L115.10,310.91 L112.70,311.52 L110.30,312.22 L107.90,313.01 L105.50,313.86 L103.10,314.78 L100.70,315.75 L98.30,316.76 L95.90,317.82 L93.50,318.90 L91.10,320.02 L88.70,321.15 L86.30,322.31 L83.90,323.49Z" fill="rgb(100,188,254)" fill-opacity="0.4"/>
<line x1="83.9" y1="306.3" x2="177.5" y2="292.9" stroke="rgb(85,175,250)" stroke-width="1.8"/>
</g>
<rect x="26.4" y="209.7" width="170.2" height="154.7" fill="none" stroke="#6e6e6e" stroke-width="1"/>
<rect x="26.4" y="194.7" width="170.2" height="15.0" fill="#fff" stroke="#6e6e6e" stroke-width="1"/>
<text x="111.5" y="205.1" font-size="7.6" font-weight="bold" text-anchor="middle" fill="#1a1a1a">Extraversion</text>
<clipPath id="c11"><rect x="201.3" y="209.7" width="170.2" height="154.7"/></clipPath>
<g clip-path="url(#c11)">
<circle cx="270.4" cy="244.7" r="2.0" fill="rgb(90,178,252)" fill-opacity="0.4"/>
<circle cx="280.8" cy="244.7" r="2.0" fill="rgb(90,178,252)" fill-opacity="0.4"/>
<circle cx="280.8" cy="248.9" r="2.0" fill="rgb(90,178,252)" fill-opacity="0.4"/>
<circle cx="270.4" cy="272.8" r="2.0" fill="rgb(247,150,60)" fill-opacity="0.4"/>
<circle cx="280.8" cy="285.1" r="2.0" fill="rgb(247,150,60)" fill-opacity="0.4"/><circle cx="280.8" cy="285.1" r="2.0" fill="rgb(247,150,60)" fill-opacity="0.4"/>
<circle cx="260.4" cy="285.1" r="2.0" fill="rgb(90,178,252)" fill-opacity="0.4"/>
<circle cx="321.8" cy="244.7" r="2.0" fill="rgb(247,150,60)" fill-opacity="0.4"/>
<circle cx="353.0" cy="244.7" r="2.0" fill="rgb(247,150,60)" fill-opacity="0.4"/>
<circle cx="363.4" cy="248.9" r="2.0" fill="rgb(247,150,60)" fill-opacity="0.4"/>
<circle cx="311.5" cy="253.0" r="2.0" fill="rgb(247,150,60)" fill-opacity="0.4"/><circle cx="311.5" cy="253.0" r="2.0" fill="rgb(90,178,252)" fill-opacity="0.4"/>
<circle cx="321.8" cy="256.8" r="2.0" fill="rgb(247,150,60)" fill-opacity="0.4"/><circle cx="321.8" cy="256.8" r="2.0" fill="rgb(90,178,252)" fill-opacity="0.4"/>
<circle cx="291.3" cy="265.1" r="2.0" fill="rgb(247,150,60)" fill-opacity="0.4"/>
<circle cx="301.5" cy="265.1" r="2.0" fill="rgb(90,178,252)" fill-opacity="0.4"/>
<circle cx="291.3" cy="272.8" r="2.0" fill="rgb(247,150,60)" fill-opacity="0.4"/>
<circle cx="301.5" cy="277.0" r="2.0" fill="rgb(247,150,60)" fill-opacity="0.4"/><circle cx="301.5" cy="277.0" r="2.0" fill="rgb(90,178,252)" fill-opacity="0.4"/>
<circle cx="311.5" cy="277.0" r="2.0" fill="rgb(247,150,60)" fill-opacity="0.4"/><circle cx="311.5" cy="277.0" r="2.0" fill="rgb(90,178,252)" fill-opacity="0.4"/>
<circle cx="301.5" cy="280.8" r="2.0" fill="rgb(90,178,252)" fill-opacity="0.4"/><circle cx="301.5" cy="280.8" r="2.0" fill="rgb(247,150,60)" fill-opacity="0.4"/><circle cx="301.5" cy="280.8" r="2.0" fill="rgb(247,150,60)" fill-opacity="0.4"/>
<circle cx="311.5" cy="280.8" r="2.0" fill="rgb(247,150,60)" fill-opacity="0.4"/><circle cx="311.5" cy="280.8" r="2.0" fill="rgb(90,178,252)" fill-opacity="0.4"/>
<circle cx="301.5" cy="285.1" r="2.0" fill="rgb(90,178,252)" fill-opacity="0.4"/><circle cx="301.5" cy="285.1" r="2.0" fill="rgb(90,178,252)" fill-opacity="0.4"/>
<circle cx="311.5" cy="285.1" r="2.0" fill="rgb(247,150,60)" fill-opacity="0.4"/><circle cx="311.5" cy="285.1" r="2.0" fill="rgb(90,178,252)" fill-opacity="0.4"/>
<circle cx="321.8" cy="280.8" r="2.0" fill="rgb(247,150,60)" fill-opacity="0.4"/>
<circle cx="332.2" cy="272.8" r="2.0" fill="rgb(247,150,60)" fill-opacity="0.4"/><circle cx="332.2" cy="272.8" r="2.0" fill="rgb(90,178,252)" fill-opacity="0.4"/>
<circle cx="353.0" cy="272.8" r="2.0" fill="rgb(247,150,60)" fill-opacity="0.4"/><circle cx="353.0" cy="272.8" r="2.0" fill="rgb(90,178,252)" fill-opacity="0.4"/>
<circle cx="342.6" cy="280.8" r="2.0" fill="rgb(247,150,60)" fill-opacity="0.4"/><circle cx="342.6" cy="280.8" r="2.0" fill="rgb(90,178,252)" fill-opacity="0.4"/>
<circle cx="260.4" cy="289.3" r="2.0" fill="rgb(90,178,252)" fill-opacity="0.4"/>
<circle cx="270.4" cy="294.2" r="2.0" fill="rgb(90,178,252)" fill-opacity="0.4"/>
<circle cx="280.8" cy="289.3" r="2.0" fill="rgb(247,150,60)" fill-opacity="0.4"/><circle cx="280.8" cy="289.3" r="2.0" fill="rgb(90,178,252)" fill-opacity="0.4"/>
<circle cx="280.8" cy="294.2" r="2.0" fill="rgb(247,150,60)" fill-opacity="0.4"/><circle cx="280.8" cy="294.2" r="2.0" fill="rgb(90,178,252)" fill-opacity="0.4"/>
<circle cx="260.4" cy="299.8" r="2.0" fill="rgb(90,178,252)" fill-opacity="0.4"/><circle cx="260.4" cy="299.8" r="2.0" fill="rgb(90,178,252)" fill-opacity="0.4"/>
<circle cx="260.4" cy="306.2" r="2.0" fill="rgb(90,178,252)" fill-opacity="0.4"/>
<circle cx="270.4" cy="306.2" r="2.0" fill="rgb(247,150,60)" fill-opacity="0.4"/><circle cx="270.4" cy="306.2" r="2.0" fill="rgb(90,178,252)" fill-opacity="0.4"/>
<circle cx="280.8" cy="306.2" r="2.0" fill="rgb(247,150,60)" fill-opacity="0.4"/><circle cx="280.8" cy="306.2" r="2.0" fill="rgb(90,178,252)" fill-opacity="0.4"/>
<circle cx="260.4" cy="357.7" r="2.0" fill="rgb(247,150,60)" fill-opacity="0.4"/><circle cx="260.4" cy="357.7" r="2.0" fill="rgb(247,150,60)" fill-opacity="0.4"/>
<circle cx="270.4" cy="357.7" r="2.0" fill="rgb(247,150,60)" fill-opacity="0.4"/><circle cx="270.4" cy="357.7" r="2.0" fill="rgb(247,150,60)" fill-opacity="0.4"/>
<circle cx="280.8" cy="357.7" r="2.0" fill="rgb(90,178,252)" fill-opacity="0.4"/><circle cx="280.8" cy="357.7" r="2.0" fill="rgb(247,150,60)" fill-opacity="0.4"/><circle cx="280.8" cy="357.7" r="2.0" fill="rgb(247,150,60)" fill-opacity="0.4"/>
<circle cx="291.3" cy="289.3" r="2.0" fill="rgb(90,178,252)" fill-opacity="0.4"/>
<circle cx="342.6" cy="289.3" r="2.0" fill="rgb(90,178,252)" fill-opacity="0.4"/>
<circle cx="311.5" cy="294.2" r="2.0" fill="rgb(247,150,60)" fill-opacity="0.4"/><circle cx="311.5" cy="294.2" r="2.0" fill="rgb(90,178,252)" fill-opacity="0.4"/>
<circle cx="311.5" cy="299.8" r="2.0" fill="rgb(247,150,60)" fill-opacity="0.4"/><circle cx="311.5" cy="299.8" r="2.0" fill="rgb(90,178,252)" fill-opacity="0.4"/>
<circle cx="321.8" cy="299.8" r="2.0" fill="rgb(247,150,60)" fill-opacity="0.4"/><circle cx="321.8" cy="299.8" r="2.0" fill="rgb(90,178,252)" fill-opacity="0.4"/>
<circle cx="332.2" cy="299.8" r="2.0" fill="rgb(90,178,252)" fill-opacity="0.4"/>
<circle cx="342.6" cy="299.8" r="2.0" fill="rgb(90,178,252)" fill-opacity="0.4"/>
<circle cx="311.5" cy="306.2" r="2.0" fill="rgb(90,178,252)" fill-opacity="0.4"/><circle cx="311.5" cy="306.2" r="2.0" fill="rgb(90,178,252)" fill-opacity="0.4"/>
<circle cx="311.5" cy="314.9" r="2.0" fill="rgb(90,178,252)" fill-opacity="0.4"/>
<circle cx="301.5" cy="327.6" r="2.0" fill="rgb(247,150,60)" fill-opacity="0.4"/>
<circle cx="311.5" cy="327.6" r="2.0" fill="rgb(90,178,252)" fill-opacity="0.4"/>
<circle cx="301.5" cy="357.7" r="2.0" fill="rgb(90,178,252)" fill-opacity="0.4"/><circle cx="301.5" cy="357.7" r="2.0" fill="rgb(90,178,252)" fill-opacity="0.4"/>
<circle cx="311.5" cy="357.7" r="2.0" fill="rgb(247,150,60)" fill-opacity="0.4"/><circle cx="311.5" cy="357.7" r="2.0" fill="rgb(90,178,252)" fill-opacity="0.4"/>
<circle cx="332.2" cy="357.7" r="2.0" fill="rgb(90,178,252)" fill-opacity="0.4"/>
<circle cx="342.6" cy="357.7" r="2.0" fill="rgb(247,150,60)" fill-opacity="0.4"/>
<path d="M260.00,310.54 L262.65,309.58 L265.30,308.60 L267.95,307.60 L270.61,306.57 L273.26,305.51 L275.91,304.42 L278.56,303.27 L281.21,302.07 L283.86,300.80 L286.51,299.46 L289.16,298.02 L291.82,296.49 L294.47,294.84 L297.12,293.08 L299.77,291.20 L302.42,289.21 L305.07,287.11 L307.72,284.92 L310.37,282.65 L313.03,280.32 L315.68,277.92 L318.33,275.47 L320.98,272.99 L323.63,270.47 L326.28,267.92 L328.93,265.35 L331.58,262.76 L334.24,260.16 L336.89,257.53 L339.54,254.90 L342.19,252.26 L344.84,249.60 L347.49,246.94 L350.14,244.27 L352.79,241.60 L355.45,238.92 L358.10,236.23 L360.75,233.54 L363.40,230.85 L363.40,282.35 L360.75,283.21 L358.10,284.08 L355.45,284.95 L352.79,285.82 L350.14,286.70 L347.49,287.58 L344.84,288.47 L342.19,289.37 L339.54,290.28 L336.89,291.20 L334.24,292.14 L331.58,293.08 L328.93,294.05 L326.28,295.03 L323.63,296.04 L320.98,297.07 L318.33,298.14 L315.68,299.25 L313.03,300.41 L310.37,301.62 L307.72,302.91 L305.07,304.27 L302.42,305.73 L299.77,307.30 L297.12,308.97 L294.47,310.76 L291.82,312.67 L289.16,314.69 L286.51,316.80 L283.86,319.01 L281.21,321.30 L278.56,323.65 L275.91,326.06 L273.26,328.52 L270.61,331.01 L267.95,333.54 L265.30,336.09 L262.65,338.66 L260.00,341.26Z" fill="rgb(250,160,90)" fill-opacity="0.4"/>
<line x1="260" y1="325.9" x2="363.4" y2="256.6" stroke="rgb(248,155,70)" stroke-width="1.8"/>
<path d="M260.00,278.35 L262.38,279.44 L264.76,280.51 L267.15,281.58 L269.53,282.62 L271.91,283.65 L274.29,284.65 L276.67,285.62 L279.06,286.56 L281.44,287.47 L283.82,288.33 L286.20,289.13 L288.58,289.88 L290.97,290.55 L293.35,291.15 L295.73,291.65 L298.11,292.04 L300.49,292.34 L302.88,292.52 L305.26,292.58 L307.64,292.54 L310.02,292.40 L312.41,292.16 L314.79,291.84 L317.17,291.45 L319.55,291.00 L321.93,290.49 L324.32,289.94 L326.70,289.35 L329.08,288.73 L331.46,288.08 L333.84,287.40 L336.23,286.71 L338.61,285.99 L340.99,285.27 L343.37,284.52 L345.75,283.77 L348.14,283.01 L350.52,282.24 L352.90,281.46 L352.90,330.14 L350.52,329.01 L348.14,327.89 L345.75,326.78 L343.37,325.68 L340.99,324.59 L338.61,323.51 L336.23,322.45 L333.84,321.41 L331.46,320.39 L329.08,319.39 L326.70,318.41 L324.32,317.48 L321.93,316.58 L319.55,315.72 L317.17,314.92 L314.79,314.18 L312.41,313.51 L310.02,312.93 L307.64,312.43 L305.26,312.04 L302.88,311.76 L300.49,311.59 L298.11,311.53 L295.73,311.59 L293.35,311.74 L290.97,311.98 L288.58,312.31 L286.20,312.70 L283.82,313.16 L281.44,313.67 L279.06,314.23 L276.67,314.82 L274.29,315.44 L271.91,316.10 L269.53,316.77 L267.15,317.47 L264.76,318.18 L262.38,318.91 L260.00,319.65Z" fill="rgb(100,188,254)" fill-opacity="0.4"/>
<line x1="260" y1="299" x2="352.9" y2="305.8" stroke="rgb(85,175,250)" stroke-width="1.8"/>
</g>
<rect x="201.3" y="209.7" width="170.2" height="154.7" fill="none" stroke="#6e6e6e" stroke-width="1"/>
<rect x="201.3" y="194.7" width="170.2" height="15.0" fill="#fff" stroke="#6e6e6e" stroke-width="1"/>
<text x="286.4" y="205.1" font-size="7.6" font-weight="bold" text-anchor="middle" fill="#1a1a1a">Neuroticism</text>
<clipPath id="c12"><rect x="376.2" y="209.7" width="170.2" height="154.7"/></clipPath>
<g clip-path="url(#c12)">
<circle cx="436.0" cy="244.7" r="2.0" fill="rgb(90,178,252)" fill-opacity="0.4"/>
<circle cx="447.3" cy="244.7" r="2.0" fill="rgb(247,150,60)" fill-opacity="0.4"/>
<circle cx="447.3" cy="253.0" r="2.0" fill="rgb(90,178,252)" fill-opacity="0.4"/>
<circle cx="424.7" cy="256.8" r="2.0" fill="rgb(247,150,60)" fill-opacity="0.4"/>
<circle cx="436.0" cy="256.8" r="2.0" fill="rgb(90,178,252)" fill-opacity="0.4"/>
<circle cx="447.3" cy="265.1" r="2.0" fill="rgb(90,178,252)" fill-opacity="0.4"/>
<circle cx="459.0" cy="265.1" r="2.0" fill="rgb(247,150,60)" fill-opacity="0.4"/>
<circle cx="447.3" cy="277.0" r="2.0" fill="rgb(247,150,60)" fill-opacity="0.4"/>
<circle cx="447.3" cy="280.8" r="2.0" fill="rgb(247,150,60)" fill-opacity="0.4"/><circle cx="447.3" cy="280.8" r="2.0" fill="rgb(90,178,252)" fill-opacity="0.4"/>
<circle cx="459.0" cy="280.8" r="2.0" fill="rgb(247,150,60)" fill-opacity="0.4"/>
<circle cx="447.3" cy="285.1" r="2.0" fill="rgb(247,150,60)" fill-opacity="0.4"/><circle cx="447.3" cy="285.1" r="2.0" fill="rgb(90,178,252)" fill-opacity="0.4"/>
<circle cx="436.0" cy="277.0" r="2.0" fill="rgb(90,178,252)" fill-opacity="0.4"/>
<circle cx="493.1" cy="244.7" r="2.0" fill="rgb(247,150,60)" fill-opacity="0.4"/>
<circle cx="504.8" cy="244.7" r="2.0" fill="rgb(90,178,252)" fill-opacity="0.4"/>
<circle cx="493.1" cy="248.9" r="2.0" fill="rgb(90,178,252)" fill-opacity="0.4"/>
<circle cx="516.1" cy="248.9" r="2.0" fill="rgb(247,150,60)" fill-opacity="0.4"/>
<circle cx="470.4" cy="253.0" r="2.0" fill="rgb(247,150,60)" fill-opacity="0.4"/>
<circle cx="493.1" cy="272.8" r="2.0" fill="rgb(247,150,60)" fill-opacity="0.4"/><circle cx="493.1" cy="272.8" r="2.0" fill="rgb(90,178,252)" fill-opacity="0.4"/>
<circle cx="504.8" cy="272.8" r="2.0" fill="rgb(90,178,252)" fill-opacity="0.4"/><circle cx="504.8" cy="272.8" r="2.0" fill="rgb(247,150,60)" fill-opacity="0.4"/><circle cx="504.8" cy="272.8" r="2.0" fill="rgb(247,150,60)" fill-opacity="0.4"/>
<circle cx="493.1" cy="277.0" r="2.0" fill="rgb(90,178,252)" fill-opacity="0.4"/>
<circle cx="470.4" cy="277.0" r="2.0" fill="rgb(247,150,60)" fill-opacity="0.4"/>
<circle cx="481.8" cy="280.8" r="2.0" fill="rgb(247,150,60)" fill-opacity="0.4"/><circle cx="481.8" cy="280.8" r="2.0" fill="rgb(90,178,252)" fill-opacity="0.4"/>
<circle cx="470.4" cy="285.1" r="2.0" fill="rgb(247,150,60)" fill-opacity="0.4"/>
<circle cx="424.7" cy="299.8" r="2.0" fill="rgb(247,150,60)" fill-opacity="0.4"/><circle cx="424.7" cy="299.8" r="2.0" fill="rgb(90,178,252)" fill-opacity="0.4"/>
<circle cx="436.0" cy="299.8" r="2.0" fill="rgb(247,150,60)" fill-opacity="0.4"/>
<circle cx="447.3" cy="299.8" r="2.0" fill="rgb(247,150,60)" fill-opacity="0.4"/><circle cx="447.3" cy="299.8" r="2.0" fill="rgb(90,178,252)" fill-opacity="0.4"/>
<circle cx="447.3" cy="306.2" r="2.0" fill="rgb(90,178,252)" fill-opacity="0.4"/>
<circle cx="447.3" cy="314.9" r="2.0" fill="rgb(90,178,252)" fill-opacity="0.4"/>
<circle cx="459.0" cy="314.9" r="2.0" fill="rgb(247,150,60)" fill-opacity="0.4"/>
<circle cx="447.3" cy="357.7" r="2.0" fill="rgb(90,178,252)" fill-opacity="0.4"/>
<circle cx="459.0" cy="357.7" r="2.0" fill="rgb(90,178,252)" fill-opacity="0.4"/><circle cx="459.0" cy="357.7" r="2.0" fill="rgb(90,178,252)" fill-opacity="0.4"/>
<circle cx="470.4" cy="289.3" r="2.0" fill="rgb(90,178,252)" fill-opacity="0.4"/><circle cx="470.4" cy="289.3" r="2.0" fill="rgb(247,150,60)" fill-opacity="0.4"/><circle cx="470.4" cy="289.3" r="2.0" fill="rgb(247,150,60)" fill-opacity="0.4"/>
<circle cx="493.1" cy="289.3" r="2.0" fill="rgb(247,150,60)" fill-opacity="0.4"/>
<circle cx="504.8" cy="289.3" r="2.0" fill="rgb(247,150,60)" fill-opacity="0.4"/><circle cx="504.8" cy="289.3" r="2.0" fill="rgb(90,178,252)" fill-opacity="0.4"/>
<circle cx="493.1" cy="294.5" r="2.0" fill="rgb(90,178,252)" fill-opacity="0.4"/>
<circle cx="504.8" cy="294.5" r="2.0" fill="rgb(247,150,60)" fill-opacity="0.4"/>
<circle cx="481.8" cy="294.5" r="2.0" fill="rgb(247,150,60)" fill-opacity="0.4"/><circle cx="481.8" cy="294.5" r="2.0" fill="rgb(90,178,252)" fill-opacity="0.4"/>
<circle cx="493.1" cy="299.8" r="2.0" fill="rgb(90,178,252)" fill-opacity="0.4"/><circle cx="493.1" cy="299.8" r="2.0" fill="rgb(247,150,60)" fill-opacity="0.4"/><circle cx="493.1" cy="299.8" r="2.0" fill="rgb(247,150,60)" fill-opacity="0.4"/>
<circle cx="504.8" cy="299.8" r="2.0" fill="rgb(247,150,60)" fill-opacity="0.4"/><circle cx="504.8" cy="299.8" r="2.0" fill="rgb(90,178,252)" fill-opacity="0.4"/>
<circle cx="504.8" cy="306.2" r="2.0" fill="rgb(247,150,60)" fill-opacity="0.4"/><circle cx="504.8" cy="306.2" r="2.0" fill="rgb(90,178,252)" fill-opacity="0.4"/>
<circle cx="470.4" cy="306.2" r="2.0" fill="rgb(247,150,60)" fill-opacity="0.4"/><circle cx="470.4" cy="306.2" r="2.0" fill="rgb(90,178,252)" fill-opacity="0.4"/>
<circle cx="470.4" cy="327.6" r="2.0" fill="rgb(90,178,252)" fill-opacity="0.4"/>
<circle cx="493.1" cy="327.6" r="2.0" fill="rgb(247,150,60)" fill-opacity="0.4"/>
<circle cx="470.4" cy="357.7" r="2.0" fill="rgb(247,150,60)" fill-opacity="0.4"/>
<circle cx="481.8" cy="357.7" r="2.0" fill="rgb(90,178,252)" fill-opacity="0.4"/><circle cx="481.8" cy="357.7" r="2.0" fill="rgb(247,150,60)" fill-opacity="0.4"/><circle cx="481.8" cy="357.7" r="2.0" fill="rgb(247,150,60)" fill-opacity="0.4"/>
<circle cx="493.1" cy="357.7" r="2.0" fill="rgb(90,178,252)" fill-opacity="0.4"/><circle cx="493.1" cy="357.7" r="2.0" fill="rgb(90,178,252)" fill-opacity="0.4"/>
<circle cx="504.8" cy="357.7" r="2.0" fill="rgb(90,178,252)" fill-opacity="0.4"/><circle cx="504.8" cy="357.7" r="2.0" fill="rgb(247,150,60)" fill-opacity="0.4"/>
<circle cx="516.1" cy="357.7" r="2.0" fill="rgb(247,150,60)" fill-opacity="0.4"/><circle cx="516.1" cy="357.7" r="2.0" fill="rgb(247,150,60)" fill-opacity="0.4"/>
<path d="M424.60,260.01 L426.94,261.70 L429.27,263.38 L431.61,265.06 L433.94,266.72 L436.28,268.37 L438.62,270.00 L440.95,271.62 L443.29,273.22 L445.62,274.80 L447.96,276.36 L450.29,277.90 L452.63,279.40 L454.97,280.87 L457.30,282.30 L459.64,283.68 L461.97,285.02 L464.31,286.30 L466.65,287.52 L468.98,288.68 L471.32,289.76 L473.65,290.77 L475.99,291.71 L478.33,292.57 L480.66,293.35 L483.00,294.05 L485.33,294.69 L487.67,295.27 L490.01,295.78 L492.34,296.25 L494.68,296.66 L497.01,297.03 L499.35,297.37 L501.68,297.67 L504.02,297.95 L506.36,298.20 L508.69,298.42 L511.03,298.63 L513.36,298.82 L515.70,299.00 L515.70,335.80 L513.36,334.16 L511.03,332.54 L508.69,330.93 L506.36,329.34 L504.02,327.78 L501.68,326.23 L499.35,324.72 L497.01,323.24 L494.68,321.80 L492.34,320.40 L490.01,319.05 L487.67,317.75 L485.33,316.51 L483.00,315.33 L480.66,314.22 L478.33,313.19 L475.99,312.23 L473.65,311.35 L471.32,310.54 L468.98,309.81 L466.65,309.15 L464.31,308.56 L461.97,308.03 L459.64,307.55 L457.30,307.12 L454.97,306.73 L452.63,306.39 L450.29,306.07 L447.96,305.79 L445.62,305.53 L443.29,305.30 L440.95,305.09 L438.62,304.89 L436.28,304.71 L433.94,304.54 L431.61,304.39 L429.27,304.25 L426.94,304.12 L424.60,303.99Z" fill="rgb(250,160,90)" fill-opacity="0.4"/>
<line x1="424.6" y1="282" x2="515.7" y2="317.4" stroke="rgb(248,155,70)" stroke-width="1.8"/>
<path d="M424.60,267.54 L426.65,268.76 L428.70,269.97 L430.75,271.18 L432.79,272.37 L434.84,273.55 L436.89,274.72 L438.94,275.88 L440.99,277.02 L443.04,278.14 L445.09,279.25 L447.14,280.34 L449.18,281.40 L451.23,282.44 L453.28,283.44 L455.33,284.42 L457.38,285.36 L459.43,286.27 L461.48,287.13 L463.53,287.95 L465.57,288.72 L467.62,289.44 L469.67,290.11 L471.72,290.72 L473.77,291.28 L475.82,291.78 L477.87,292.22 L479.92,292.62 L481.96,292.96 L484.01,293.25 L486.06,293.50 L488.11,293.70 L490.16,293.87 L492.21,294.00 L494.26,294.10 L496.31,294.17 L498.35,294.21 L500.40,294.23 L502.45,294.22 L504.50,294.20 L504.50,327.00 L502.45,325.88 L500.40,324.78 L498.35,323.70 L496.31,322.64 L494.26,321.62 L492.21,320.62 L490.16,319.65 L488.11,318.72 L486.06,317.83 L484.01,316.97 L481.96,316.17 L479.92,315.41 L477.87,314.71 L475.82,314.06 L473.77,313.46 L471.72,312.92 L469.67,312.44 L467.62,312.01 L465.57,311.63 L463.53,311.30 L461.48,311.02 L459.43,310.79 L457.38,310.60 L455.33,310.44 L453.28,310.32 L451.23,310.23 L449.18,310.17 L447.14,310.14 L445.09,310.12 L443.04,310.13 L440.99,310.16 L438.94,310.20 L436.89,310.26 L434.84,310.33 L432.79,310.42 L430.75,310.52 L428.70,310.62 L426.65,310.74 L424.60,310.86Z" fill="rgb(100,188,254)" fill-opacity="0.4"/>
<line x1="424.6" y1="289.2" x2="504.5" y2="310.6" stroke="rgb(85,175,250)" stroke-width="1.8"/>
</g>
<rect x="376.2" y="209.7" width="170.2" height="154.7" fill="none" stroke="#6e6e6e" stroke-width="1"/>
<rect x="376.2" y="194.7" width="170.2" height="15.0" fill="#fff" stroke="#6e6e6e" stroke-width="1"/>
<text x="461.3" y="205.1" font-size="7.6" font-weight="bold" text-anchor="middle" fill="#1a1a1a">Openess to Experience</text>
<line x1="24" y1="230.4" x2="26.4" y2="230.4" stroke="#333" stroke-width="1"/>
<text x="22.0" y="233.4" font-size="8.4" text-anchor="end" fill="#4d4d4d">2</text>
<line x1="24" y1="264.8" x2="26.4" y2="264.8" stroke="#333" stroke-width="1"/>
<text x="22.0" y="267.8" font-size="8.4" text-anchor="end" fill="#4d4d4d">1</text>
<line x1="24" y1="299.1" x2="26.4" y2="299.1" stroke="#333" stroke-width="1"/>
<text x="22.0" y="302.1" font-size="8.4" text-anchor="end" fill="#4d4d4d">0</text>
<line x1="24" y1="333.5" x2="26.4" y2="333.5" stroke="#333" stroke-width="1"/>
<text x="22.0" y="336.5" font-size="8.4" text-anchor="end" fill="#4d4d4d">−1</text>
<line x1="73.9" y1="364.4" x2="73.9" y2="367.0" stroke="#333" stroke-width="1"/>
<text x="73.9" y="375.4" font-size="8.4" text-anchor="middle" fill="#4d4d4d">−2</text>
<line x1="123.5" y1="364.4" x2="123.5" y2="367.0" stroke="#333" stroke-width="1"/>
<text x="123.5" y="375.4" font-size="8.4" text-anchor="middle" fill="#4d4d4d">0</text>
<line x1="173.1" y1="364.4" x2="173.1" y2="367.0" stroke="#333" stroke-width="1"/>
<text x="173.1" y="375.4" font-size="8.4" text-anchor="middle" fill="#4d4d4d">2</text>
<line x1="248.8" y1="364.4" x2="248.8" y2="367.0" stroke="#333" stroke-width="1"/>
<text x="248.8" y="375.4" font-size="8.4" text-anchor="middle" fill="#4d4d4d">−2</text>
<line x1="298.4" y1="364.4" x2="298.4" y2="367.0" stroke="#333" stroke-width="1"/>
<text x="298.4" y="375.4" font-size="8.4" text-anchor="middle" fill="#4d4d4d">0</text>
<line x1="348.0" y1="364.4" x2="348.0" y2="367.0" stroke="#333" stroke-width="1"/>
<text x="348.0" y="375.4" font-size="8.4" text-anchor="middle" fill="#4d4d4d">2</text>
<line x1="423.7" y1="364.4" x2="423.7" y2="367.0" stroke="#333" stroke-width="1"/>
<text x="423.7" y="375.4" font-size="8.4" text-anchor="middle" fill="#4d4d4d">−2</text>
<line x1="473.3" y1="364.4" x2="473.3" y2="367.0" stroke="#333" stroke-width="1"/>
<text x="473.3" y="375.4" font-size="8.4" text-anchor="middle" fill="#4d4d4d">0</text>
<line x1="522.9" y1="364.4" x2="522.9" y2="367.0" stroke="#333" stroke-width="1"/>
<text x="522.9" y="375.4" font-size="8.4" text-anchor="middle" fill="#4d4d4d">2</text>
<text x="286.4" y="385.6" font-size="9.3" text-anchor="middle" fill="#1a1a1a">Trait score (standardized)</text>
<text transform="translate(10.3,199.4) rotate(-90)" font-size="9.3" text-anchor="middle" fill="#1a1a1a">Depression score (standardized)</text>
<rect x="224.5" y="396.7" width="15.5" height="15.3" fill="rgb(250,160,90)" fill-opacity="0.4"/>
<line x1="225.8" y1="404.3" x2="238.7" y2="404.3" stroke="rgb(248,155,70)" stroke-width="1.8"/>
<text x="244.6" y="406.8" font-size="7.6" fill="#1a1a1a">Actor effect</text>
<rect x="286.6" y="396.7" width="15.2" height="15.3" fill="rgb(100,188,254)" fill-opacity="0.4"/>
<line x1="287.9" y1="404.3" x2="300.5" y2="404.3" stroke="rgb(85,175,250)" stroke-width="1.8"/>
<text x="306.2" y="406.8" font-size="7.6" fill="#1a1a1a">Partner effect</text>
</svg></body></html>
